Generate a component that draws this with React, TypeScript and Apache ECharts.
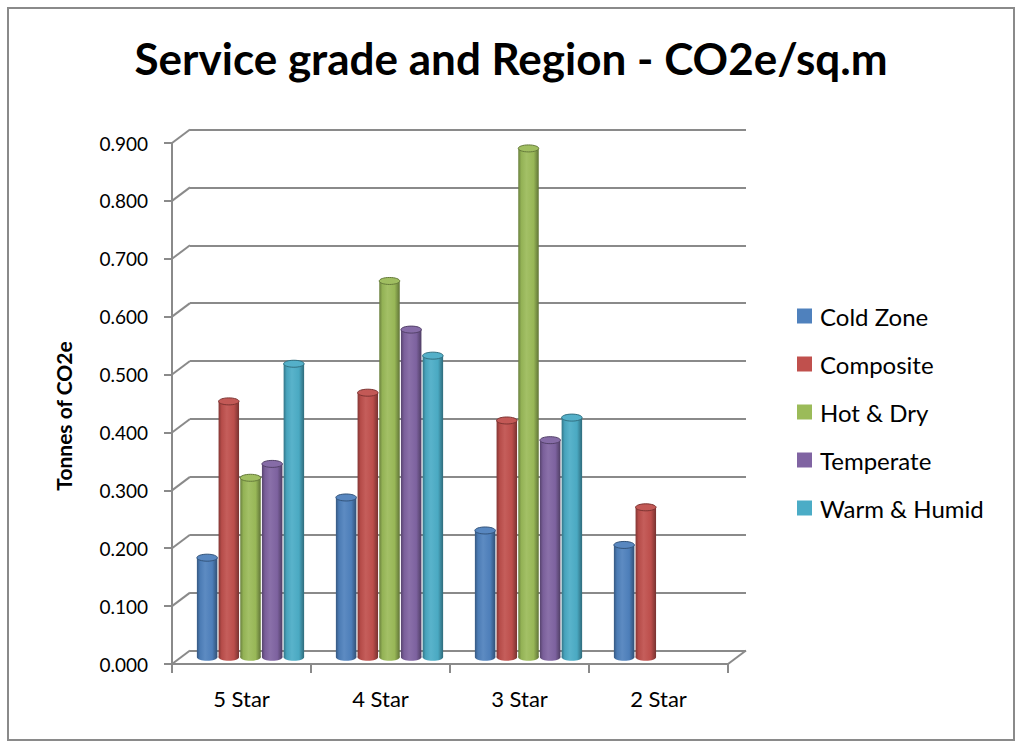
import React, { useEffect, useRef } from "react";
import * as echarts from "echarts";

const categories = ["5 Star", "4 Star", "3 Star", "2 Star"];
const seriesNames = ["Cold Zone", "Composite", "Hot & Dry", "Temperate", "Warm & Humid"];
const coldZone = [0.172, 0.276, 0.219, 0.194];
const composite = [0.442, 0.457, 0.409, 0.259];
const hotDry = [0.31, 0.65, 0.879, null];
const temperate = [0.334, 0.566, 0.375, null];
const warmHumid = [0.507, 0.521, 0.414, null];
const yTicks = [0, 0.1, 0.2, 0.3, 0.4, 0.5, 0.6, 0.7, 0.8, 0.9];
const seriesValues = [coldZone, composite, hotDry, temperate, warmHumid];
const colors = ["#4F81BD", "#C0504D", "#9BBB59", "#8064A2", "#4BACC6"];

const DX = 18;
const DY = -13.5;
const FONT = "Lato, 'Open Sans', sans-serif";
const GRID_COLOR = "#8a8a8a";

function shade(hex: string, f: number) {
  const n = parseInt(hex.slice(1), 16);
  let r = (n >> 16) & 255, g = (n >> 8) & 255, b = n & 255;
  if (f < 0) {
    r = Math.round(r * (1 + f)); g = Math.round(g * (1 + f)); b = Math.round(b * (1 + f));
  } else {
    r = Math.round(r + (255 - r) * f); g = Math.round(g + (255 - g) * f); b = Math.round(b + (255 - b) * f);
  }
  return `rgb(${r},${g},${b})`;
}

export default function App() {
  const ref = useRef<HTMLDivElement>(null);
  useEffect(() => {
    if (!ref.current) return;
    const chart = echarts.init(ref.current, null, { renderer: "svg" });

    const barSeries = seriesNames.map((name, si) => {
      const base = colors[si];
      const grad = new echarts.graphic.LinearGradient(0, 0, 1, 0, [
        { offset: 0, color: shade(base, -0.32) },
        { offset: 0.15, color: shade(base, -0.05) },
        { offset: 0.4, color: shade(base, 0.08) },
        { offset: 0.75, color: shade(base, -0.02) },
        { offset: 1, color: shade(base, -0.38) },
      ]);
      const data = seriesValues[si]
        .map((v, i) => [i, v])
        .filter((d) => d[1] !== null);
      return {
        type: "custom",
        name,
        xAxisIndex: 0,
        yAxisIndex: 0,
        z: 10,
        itemStyle: { color: base },
        data,
        renderItem: (params: any, api: any) => {
          const ci = api.value(0);
          const v = api.value(1);
          const top = api.coord([ci, v]);
          const bottom = api.coord([ci, 0]);
          const band = api.size([1, 0])[0];
          const w = (band * 0.78) / 5;
          const cx = top[0] - band * 0.39 + (si + 0.5) * w + DX / 2;
          const yTop = top[1] + DY / 2;
          const yBase = bottom[1] + DY / 2;
          const rx = w / 2 - 0.6;
          const ry = 3.5;
          return {
            type: "group",
            children: [
              { type: "ellipse", shape: { cx, cy: yBase, rx, ry }, style: { fill: grad } },
              { type: "rect", shape: { x: cx - rx, y: yTop, width: rx * 2, height: yBase - yTop }, style: { fill: grad } },
              { type: "ellipse", shape: { cx, cy: yTop, rx, ry }, style: { fill: shade(base, 0.05), stroke: shade(base, -0.35), lineWidth: 1 } },
            ],
          };
        },
      };
    });

    const connectorSeries = {
      type: "custom",
      name: "walls",
      silent: true,
      xAxisIndex: 0,
      yAxisIndex: 0,
      z: 2,
      data: yTicks.map((v) => [0, v]),
      renderItem: (params: any, api: any) => {
        const p = api.coord([api.value(0), api.value(1)]);
        const band = api.size([1, 0])[0];
        const x0 = p[0] - band / 2;
        return {
          type: "line",
          shape: { x1: x0, y1: p[1], x2: x0 + DX, y2: p[1] + DY },
          style: { stroke: GRID_COLOR, lineWidth: 2 },
        };
      },
    };

    const floorSeries = {
      type: "custom",
      name: "floor",
      silent: true,
      xAxisIndex: 0,
      yAxisIndex: 0,
      z: 2,
      data: [[categories.length - 1, 0]],
      renderItem: (params: any, api: any) => {
        const p = api.coord([api.value(0), api.value(1)]);
        const band = api.size([1, 0])[0];
        const x0 = p[0] + band / 2;
        return {
          type: "line",
          shape: { x1: x0, y1: p[1], x2: x0 + DX, y2: p[1] + DY },
          style: { stroke: GRID_COLOR, lineWidth: 2 },
        };
      },
    };

    const option: any = {
      animation: false,
      backgroundColor: "#ffffff",
      title: {
        text: "Service grade and Region - CO2e/sq.m",
        left: "center",
        top: 31,
        textStyle: { fontFamily: FONT, fontWeight: "bold", fontSize: 44, color: "#000" },
      },
      legend: {
        data: seriesNames,
        orient: "vertical",
        left: 792,
        top: 299,
        itemWidth: 15,
        itemHeight: 15,
        itemGap: 24,
        icon: "rect",
        textStyle: { fontFamily: FONT, fontSize: 24, lineHeight: 24, color: "#000", padding: [0, 0, 0, 3] },
      },
      graphic: [
        {
          type: "rect",
          shape: { x: 8, y: 8, width: 1006, height: 732 },
          style: { fill: "none", stroke: "#8a8a8a", lineWidth: 2 },
          silent: true,
          z: -1,
        },
        {
          type: "text",
          x: 63,
          y: 416,
          rotation: Math.PI / 2,
          style: {
            text: "Tonnes of CO2e",
            fontFamily: FONT,
            fontWeight: "bold",
            fontSize: 21,
            fill: "#000",
            align: "center",
            verticalAlign: "middle",
          },
        },
      ],
      grid: [
        { left: 172, top: 143, width: 556, height: 521 },
        { left: 172 + DX, top: 143 + DY, width: 556, height: 521 },
      ],
      xAxis: [
        {
          type: "category",
          gridIndex: 0,
          data: categories,
          axisLine: { lineStyle: { color: GRID_COLOR, width: 2 } },
          axisTick: { show: true, interval: 0, length: 9, lineStyle: { color: GRID_COLOR, width: 2 } },
          axisLabel: { margin: 23, fontFamily: FONT, fontSize: 22, color: "#000" },
          splitLine: { show: false },
        },
        {
          type: "category",
          gridIndex: 1,
          data: categories,
          show: false,
        },
      ],
      yAxis: [
        {
          type: "value",
          gridIndex: 0,
          min: 0,
          max: 0.9,
          interval: 0.1,
          axisLine: { show: true, lineStyle: { color: GRID_COLOR, width: 2 } },
          axisTick: { show: true, length: 8, lineStyle: { color: GRID_COLOR, width: 2 } },
          axisLabel: {
            margin: 24,
            fontFamily: FONT,
            fontSize: 19,
            color: "#000",
            formatter: (v: number) => v.toFixed(3),
          },
          splitLine: { show: false },
        },
        {
          type: "value",
          gridIndex: 1,
          min: 0,
          max: 0.9,
          interval: 0.1,
          axisLine: { show: false },
          axisTick: { show: false },
          axisLabel: { show: false },
          splitLine: { show: true, lineStyle: { color: GRID_COLOR, width: 2 } },
        },
      ],
      series: [connectorSeries, floorSeries, ...barSeries],
    };
    chart.setOption(option);
    return () => chart.dispose();
  }, []);

  return (
    <div
      ref={ref}
      style={{ position: "absolute", left: 0, top: 0, width: 1022, height: 747 }}
    />
  );
}
